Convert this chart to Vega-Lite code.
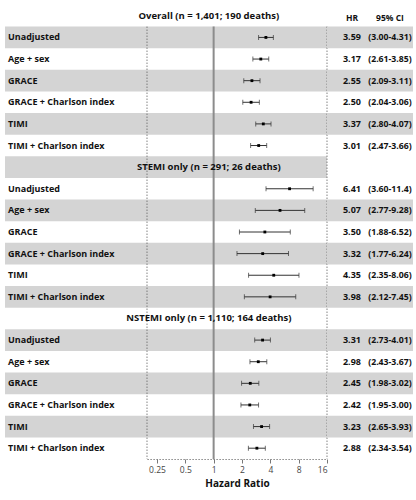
{
  "$schema": "https://vega.github.io/schema/vega-lite/v6.json",
  "datasets": {
    "rows": [
      {"row": 0, "label": "Overall (n = 1,401; 190 deaths)", "kind": "header"},
      {"row": 1, "label": "Unadjusted", "kind": "model", "hr": 3.59, "lo": 3.00, "hi": 4.31, "ci": "(3.00-4.31)"},
      {"row": 2, "label": "Age + sex", "kind": "model", "hr": 3.17, "lo": 2.61, "hi": 3.85, "ci": "(2.61-3.85)"},
      {"row": 3, "label": "GRACE", "kind": "model", "hr": 2.55, "lo": 2.09, "hi": 3.11, "ci": "(2.09-3.11)"},
      {"row": 4, "label": "GRACE + Charlson index", "kind": "model", "hr": 2.50, "lo": 2.04, "hi": 3.06, "ci": "(2.04-3.06)"},
      {"row": 5, "label": "TIMI", "kind": "model", "hr": 3.37, "lo": 2.80, "hi": 4.07, "ci": "(2.80-4.07)"},
      {"row": 6, "label": "TIMI + Charlson index", "kind": "model", "hr": 3.01, "lo": 2.47, "hi": 3.66, "ci": "(2.47-3.66)"},
      {"row": 7, "label": "STEMI only (n = 291; 26 deaths)", "kind": "header"},
      {"row": 8, "label": "Unadjusted", "kind": "model", "hr": 6.41, "lo": 3.60, "hi": 11.4, "ci": "(3.60-11.4)"},
      {"row": 9, "label": "Age + sex", "kind": "model", "hr": 5.07, "lo": 2.77, "hi": 9.28, "ci": "(2.77-9.28)"},
      {"row": 10, "label": "GRACE", "kind": "model", "hr": 3.50, "lo": 1.88, "hi": 6.52, "ci": "(1.88-6.52)"},
      {"row": 11, "label": "GRACE + Charlson index", "kind": "model", "hr": 3.32, "lo": 1.77, "hi": 6.24, "ci": "(1.77-6.24)"},
      {"row": 12, "label": "TIMI", "kind": "model", "hr": 4.35, "lo": 2.35, "hi": 8.06, "ci": "(2.35-8.06)"},
      {"row": 13, "label": "TIMI + Charlson index", "kind": "model", "hr": 3.98, "lo": 2.12, "hi": 7.45, "ci": "(2.12-7.45)"},
      {"row": 14, "label": "NSTEMI only (n = 1,110; 164 deaths)", "kind": "header"},
      {"row": 15, "label": "Unadjusted", "kind": "model", "hr": 3.31, "lo": 2.73, "hi": 4.01, "ci": "(2.73-4.01)"},
      {"row": 16, "label": "Age + sex", "kind": "model", "hr": 2.98, "lo": 2.43, "hi": 3.67, "ci": "(2.43-3.67)"},
      {"row": 17, "label": "GRACE", "kind": "model", "hr": 2.45, "lo": 1.98, "hi": 3.02, "ci": "(1.98-3.02)"},
      {"row": 18, "label": "GRACE + Charlson index", "kind": "model", "hr": 2.42, "lo": 1.95, "hi": 3.00, "ci": "(1.95-3.00)"},
      {"row": 19, "label": "TIMI", "kind": "model", "hr": 3.23, "lo": 2.65, "hi": 3.93, "ci": "(2.65-3.93)"},
      {"row": 20, "label": "TIMI + Charlson index", "kind": "model", "hr": 2.88, "lo": 2.34, "hi": 3.54, "ci": "(2.34-3.54)"}
    ],
    "colheads": [
      {"col": "HR", "text": "HR"},
      {"col": "CI", "text": "95% CI"}
    ],
    "guides": [
      {"x": 0.196, "top": 1, "bottom": 21, "kind": "edge"},
      {"x": 16, "top": 1, "bottom": 21, "kind": "edge"},
      {"x": 1, "top": 1, "bottom": 21, "kind": "null"}
    ]
  },
  "bounds": "flush",
  "spacing": 0,
  "hconcat": [
    {
      "width": 142,
      "height": 454,
      "data": {"name": "rows"},
      "encoding": {
        "y": {"field": "row", "type": "ordinal", "scale": {"domain": [0,1,2,3,4,5,6,7,8,9,10,11,12,13,14,15,16,17,18,19,20], "paddingInner": 0, "paddingOuter": 0}, "axis": null}
      },
      "layer": [
        {
          "transform": [{"filter": "datum.row % 2 == 1"}],
          "mark": {"type": "rect", "color": "#d4d4d4"}
        },
        {
          "transform": [{"filter": "datum.kind == 'model'"}],
          "mark": {"type": "text", "align": "left", "dx": 3, "fontWeight": "bold", "fontSize": 9, "color": "#111"},
          "encoding": {
            "x": {"datum": "label", "type": "nominal", "scale": {"type": "point", "padding": 0, "align": 0}, "axis": null},
            "text": {"field": "label"}
          }
        }
      ]
    },
    {
      "width": 180,
      "height": 454,
      "resolve": {"scale": {"y": "independent"}},
      "layer": [
        {
          "data": {"name": "rows"},
          "transform": [{"filter": "datum.row % 2 == 1"}],
          "mark": {"type": "rect", "color": "#d4d4d4"},
          "encoding": {
            "y": {"field": "row", "type": "ordinal", "scale": {"domain": [0,1,2,3,4,5,6,7,8,9,10,11,12,13,14,15,16,17,18,19,20], "paddingInner": 0, "paddingOuter": 0}, "axis": null}
          }
        },
        {
          "data": {"name": "guides"},
          "transform": [{"filter": "datum.kind == 'null'"}],
          "mark": {"type": "rule", "color": "#8c8c8c", "strokeWidth": 2},
          "encoding": {
            "x": {"field": "x", "type": "quantitative"},
            "y": {"field": "top", "type": "quantitative", "scale": {"domain": [21, 0], "nice": false, "zero": false}, "axis": null},
            "y2": {"field": "bottom"}
          }
        },
        {
          "data": {"name": "guides"},
          "transform": [{"filter": "datum.kind == 'edge'"}],
          "mark": {"type": "rule", "color": "#666", "strokeWidth": 1, "strokeDash": [1.2, 1.8]},
          "encoding": {
            "x": {"field": "x", "type": "quantitative"},
            "y": {"field": "top", "type": "quantitative", "scale": {"domain": [21, 0], "nice": false, "zero": false}, "axis": null},
            "y2": {"field": "bottom"}
          }
        },
        {
          "data": {"name": "rows"},
          "transform": [{"filter": "datum.kind == 'model'"}],
          "mark": {"type": "rule", "color": "#333", "strokeWidth": 1},
          "encoding": {
            "x": {
              "field": "lo", "type": "quantitative",
              "scale": {"type": "log", "base": 2, "domain": [0.196, 16], "nice": false},
              "axis": {
                "values": [0.25, 0.5, 1, 2, 4, 8, 16],
                "format": "~g",
                "grid": false,
                "title": "Hazard Ratio",
                "titleFontSize": 10,
                "titleFontWeight": "bold",
                "titleColor": "#111",
                "titlePadding": 5,
                "labelFontSize": 8.5,
                "labelColor": "#444",
                "labelPadding": 2,
                "domainColor": "#666",
                "domainDash": [1.2, 1.8],
                "tickColor": "#777",
                "tickSize": 4
              }
            },
            "x2": {"field": "hi"},
            "y": {"field": "row", "type": "ordinal", "scale": {"domain": [0,1,2,3,4,5,6,7,8,9,10,11,12,13,14,15,16,17,18,19,20], "paddingInner": 0, "paddingOuter": 0}, "axis": null}
          }
        },
        {
          "data": {"name": "rows"},
          "transform": [{"filter": "datum.kind == 'model'"}],
          "mark": {"type": "tick", "color": "#333", "thickness": 1, "size": 5},
          "encoding": {
            "x": {"field": "lo", "type": "quantitative"},
            "y": {"field": "row", "type": "ordinal", "scale": {"domain": [0,1,2,3,4,5,6,7,8,9,10,11,12,13,14,15,16,17,18,19,20], "paddingInner": 0, "paddingOuter": 0}, "axis": null}
          }
        },
        {
          "data": {"name": "rows"},
          "transform": [{"filter": "datum.kind == 'model'"}],
          "mark": {"type": "tick", "color": "#333", "thickness": 1, "size": 5},
          "encoding": {
            "x": {"field": "hi", "type": "quantitative"},
            "y": {"field": "row", "type": "ordinal", "scale": {"domain": [0,1,2,3,4,5,6,7,8,9,10,11,12,13,14,15,16,17,18,19,20], "paddingInner": 0, "paddingOuter": 0}, "axis": null}
          }
        },
        {
          "data": {"name": "rows"},
          "transform": [{"filter": "datum.kind == 'model'"}],
          "mark": {"type": "square", "color": "#000", "filled": true, "opacity": 1, "size": 8},
          "encoding": {
            "x": {"field": "hr", "type": "quantitative"},
            "y": {"field": "row", "type": "ordinal", "scale": {"domain": [0,1,2,3,4,5,6,7,8,9,10,11,12,13,14,15,16,17,18,19,20], "paddingInner": 0, "paddingOuter": 0}, "axis": null}
          }
        },
        {
          "data": {"name": "rows"},
          "transform": [{"filter": "datum.kind == 'header'"}],
          "mark": {"type": "text", "align": "center", "fontWeight": "bold", "fontSize": 9.5, "color": "#111"},
          "encoding": {
            "x": {"datum": 0.89, "type": "quantitative"},
            "y": {"field": "row", "type": "ordinal", "scale": {"domain": [0,1,2,3,4,5,6,7,8,9,10,11,12,13,14,15,16,17,18,19,20], "paddingInner": 0, "paddingOuter": 0}, "axis": null},
            "text": {"field": "label"}
          }
        }
      ]
    },
    {
      "width": 86,
      "height": 454,
      "layer": [
        {
          "data": {"name": "rows"},
          "transform": [{"filter": "datum.row % 2 == 1 && datum.row != 7"}],
          "mark": {"type": "rect", "color": "#d4d4d4"},
          "encoding": {
            "y": {"field": "row", "type": "ordinal", "scale": {"domain": [0,1,2,3,4,5,6,7,8,9,10,11,12,13,14,15,16,17,18,19,20], "paddingInner": 0, "paddingOuter": 0}, "axis": null}
          }
        },
        {
          "data": {"name": "rows"},
          "transform": [{"filter": "datum.kind == 'model'"}],
          "mark": {"type": "text", "align": "center", "fontWeight": "bold", "fontSize": 9, "color": "#111"},
          "encoding": {
            "x": {"datum": "HR", "type": "nominal", "scale": {"type": "point", "domain": ["HR", "CI"], "padding": 0.632, "align": 0.52}, "axis": null},
            "y": {"field": "row", "type": "ordinal"},
            "text": {"field": "hr", "format": ".2f"}
          }
        },
        {
          "data": {"name": "rows"},
          "transform": [{"filter": "datum.kind == 'model'"}],
          "mark": {"type": "text", "align": "center", "fontWeight": "bold", "fontSize": 8.7, "color": "#111"},
          "encoding": {
            "x": {"datum": "CI", "type": "nominal"},
            "y": {"field": "row", "type": "ordinal"},
            "text": {"field": "ci"}
          }
        },
        {
          "data": {"name": "colheads"},
          "mark": {"type": "text", "align": "center", "fontWeight": "bold", "fontSize": 8.5, "color": "#111", "dy": 2},
          "encoding": {
            "x": {"field": "col", "type": "nominal"},
            "y": {"datum": 0, "type": "ordinal"},
            "text": {"field": "text"}
          }
        }
      ]
    }
  ],
  "config": {
    "font": "Open Sans",
    "view": {"stroke": null}
  }
}
